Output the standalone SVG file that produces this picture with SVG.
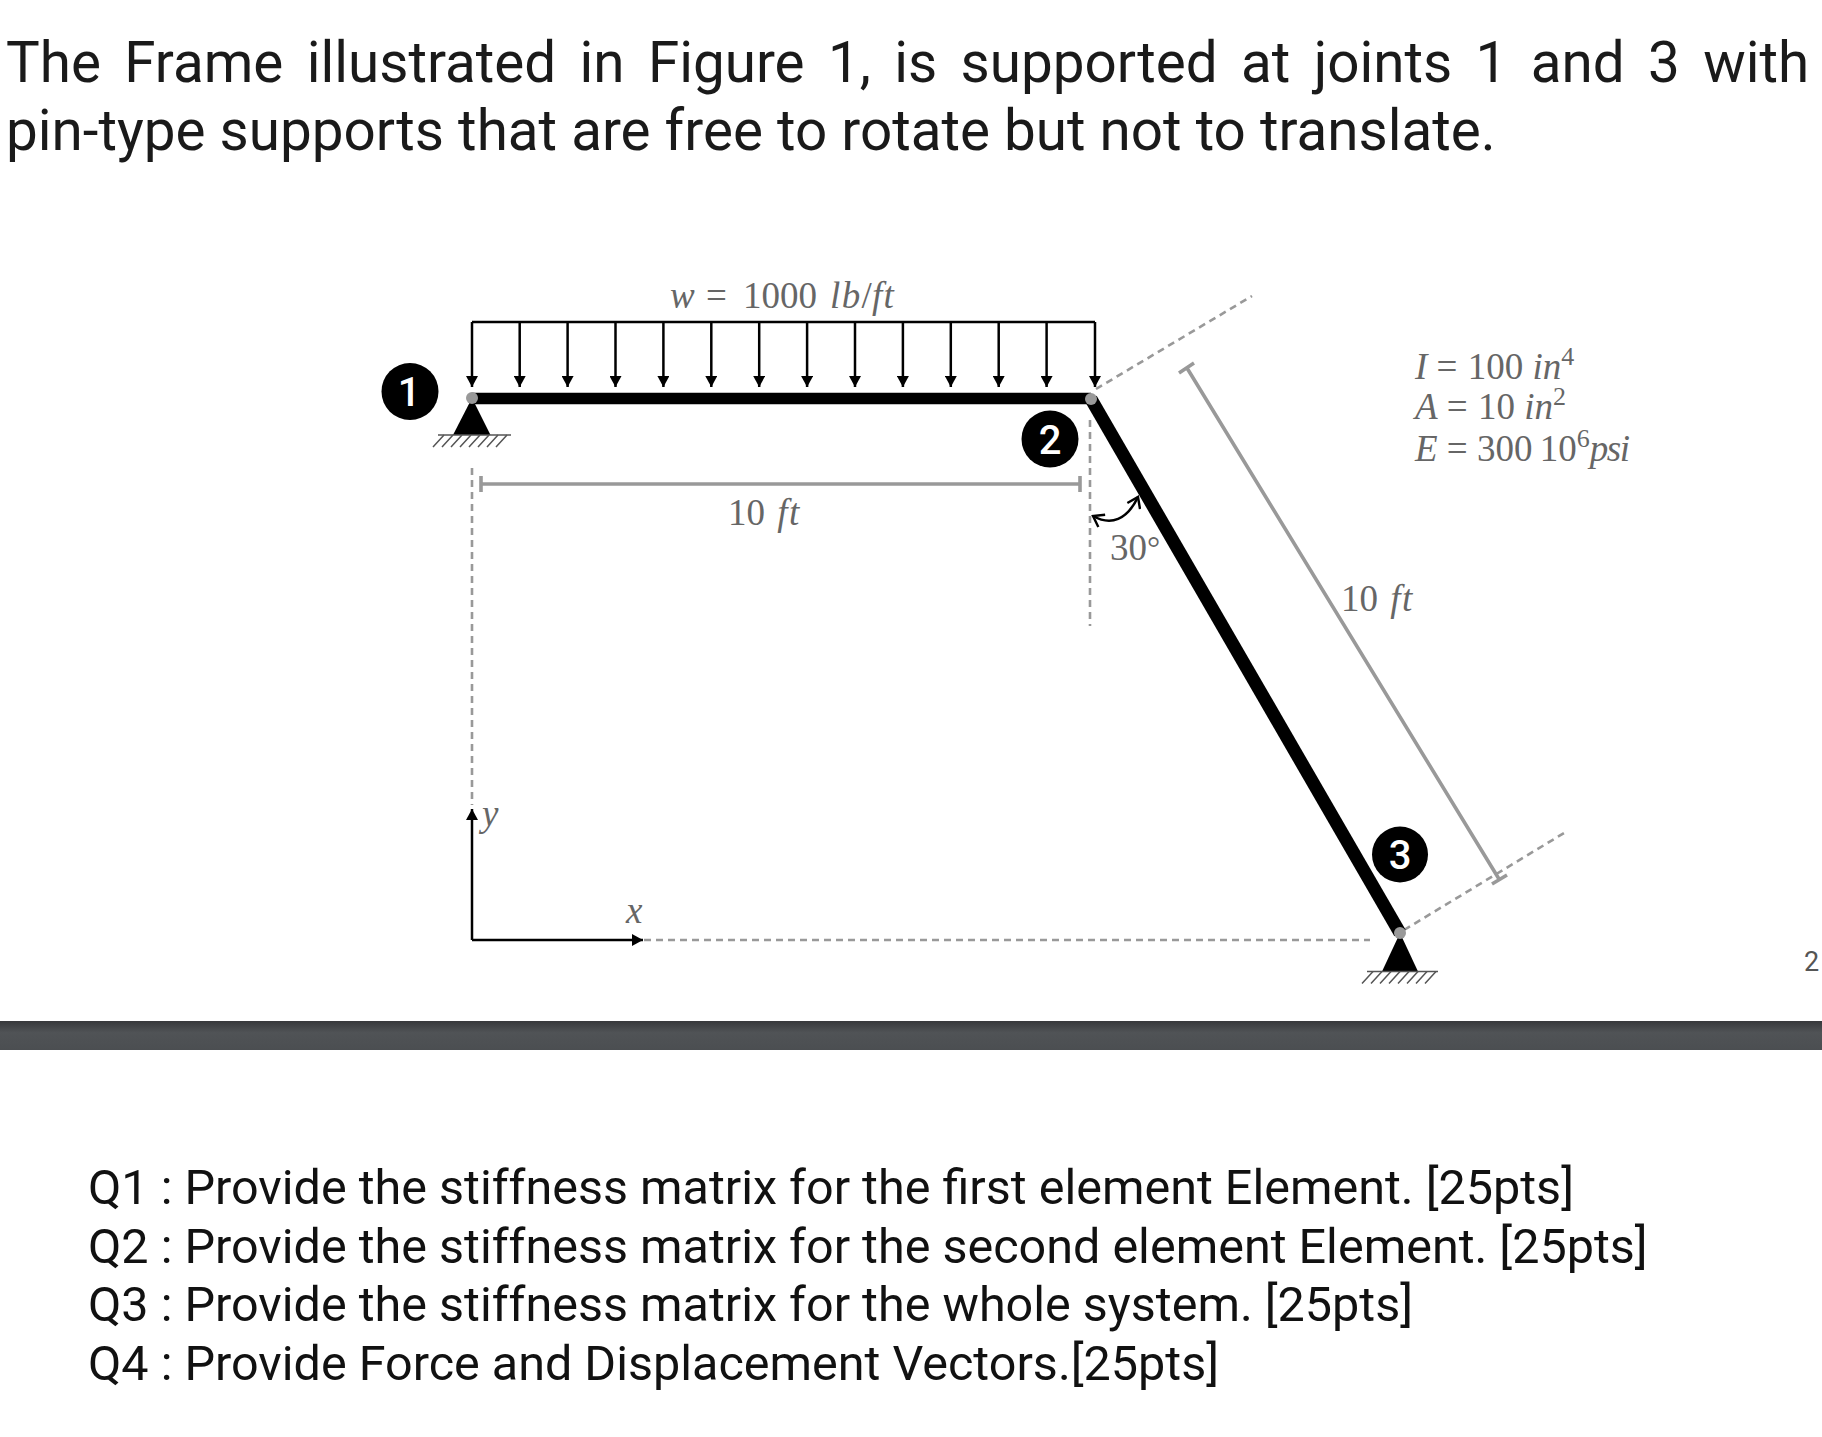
<svg xmlns="http://www.w3.org/2000/svg" width="1822" height="1437" viewBox="0 0 1822 1437">
<style>
.t{font-family:Roboto,"Noto Sans",sans-serif;fill:#1a1a1a;font-size:56.6px}
.q{font-family:Roboto,"Noto Sans",sans-serif;fill:#111;font-size:48.5px}
.m{font-family:"Liberation Serif",serif;fill:#666;font-size:37px}
.i{font-style:italic;letter-spacing:1.4px}
.r{font-style:italic}
.s{font-size:26px}
.n{font-family:Roboto,"Liberation Sans",sans-serif;fill:#fff;font-size:40px;font-weight:500;text-anchor:middle}
.dash{stroke:#999;stroke-width:2.6;stroke-dasharray:7 5;fill:none}
.dim{stroke:#999;stroke-width:3.6;fill:none}
.load{stroke:#000;stroke-width:2.5;fill:none}
.hatch{stroke:#555;stroke-width:1.5;fill:none}
.bn{fill:#000}
.pin{fill:#999}
</style>
<defs>
<linearGradient id="bar" x1="0" y1="0" x2="0" y2="1"><stop offset="0" stop-color="#37383b"/><stop offset=".4" stop-color="#505356"/><stop offset="1" stop-color="#4b4e51"/></linearGradient>
<marker id="ah" markerWidth="12" markerHeight="12" refX="11" refY="6" orient="auto" markerUnits="userSpaceOnUse"><path d="M0 0L11 6L0 12Z" fill="#000"/></marker>
<marker id="oh" markerWidth="14" markerHeight="16" refX="12" refY="8" orient="auto-start-reverse" markerUnits="userSpaceOnUse"><path d="M2 1L12 8L2 15" fill="none" stroke="#000" stroke-width="2.4"/></marker>
<g id="hs"><path class="hatch" d="M0 12L11 0M9 12L20 0M18 12L29 0M27 12L38 0M36 12L47 0M45 12L56 0M54 12L65 0M63 12L74 0"/></g>
</defs>
<rect width="1822" height="1437" fill="#fff"/>
<text class="t" x="6" y="82" word-spacing="9.3">The Frame illustrated in Figure 1, is supported at joints 1 and 3 with</text>
<text class="t" x="6" y="150">pin-type supports that are free to rotate but not to translate.</text>

<g id="connectors">
<path class="dash" d="M472 468V805M1090 420V626M644 940H1370M1096 389L1252 296M1404 930L1564 833"/>
<path class="dim" d="M481 484H1080M481 476V492M1080 476V492M1187 368L1499 879M1179 373L1194 363M1492 884L1507 875"/>
<path class="load" d="M472 322H1095"/>
<path class="load" marker-end="url(#ah)" d="M472 322V387"/>
<path class="load" marker-end="url(#ah)" d="M519.7 322V387"/>
<path class="load" marker-end="url(#ah)" d="M567.6 322V387"/>
<path class="load" marker-end="url(#ah)" d="M615.5 322V387"/>
<path class="load" marker-end="url(#ah)" d="M663.4 322V387"/>
<path class="load" marker-end="url(#ah)" d="M711.3 322V387"/>
<path class="load" marker-end="url(#ah)" d="M759.2 322V387"/>
<path class="load" marker-end="url(#ah)" d="M807.1 322V387"/>
<path class="load" marker-end="url(#ah)" d="M855 322V387"/>
<path class="load" marker-end="url(#ah)" d="M902.9 322V387"/>
<path class="load" marker-end="url(#ah)" d="M950.8 322V387"/>
<path class="load" marker-end="url(#ah)" d="M998.7 322V387"/>
<path class="load" marker-end="url(#ah)" d="M1046.6 322V387"/>
<path class="load" marker-end="url(#ah)" d="M1095 322V387"/>
<path class="load" marker-end="url(#ah)" d="M472 940V809"/>
<path class="load" marker-end="url(#ah)" d="M472 940H643"/>
<path class="load" marker-start="url(#oh)" marker-end="url(#oh)" d="M1093 516C1111 526 1127 520 1138 497"/>
</g>

<g id="members">
<path d="M472 398.5H1091" stroke="#000" stroke-width="11.5" fill="none"/>
<path d="M1091 399L1400 933" stroke="#000" stroke-width="13" fill="none"/>
</g>

<g id="support-1">
<path class="bn" d="M472 398L490.5 435H453Z"/>
<path class="hatch" d="M438 435H511"/>
<use href="#hs" x="433" y="435"/>
<circle class="pin" cx="472" cy="398" r="6"/>
</g>
<g id="support-2"><circle class="pin" cx="1091" cy="399" r="6"/></g>
<g id="support-3">
<path class="bn" d="M1400 933L1418 971.5H1382Z"/>
<path class="hatch" d="M1367 971.5H1438"/>
<use href="#hs" x="1362" y="971.5"/>
<circle class="pin" cx="1400" cy="933" r="6"/>
</g>

<g id="node-1"><circle class="bn" cx="410" cy="391.5" r="28.5"/><text class="n" x="409" y="406">1</text></g>
<g id="node-2"><circle class="bn" cx="1050" cy="439" r="28.5"/><text class="n" x="1050" y="453.5">2</text></g>
<g id="node-3"><circle class="bn" cx="1400" cy="854.5" r="28"/><text class="n" x="1400" y="869">3</text></g>

<g id="labels">
<text class="m" x="670" y="308"><tspan class="i">w</tspan><tspan x="706">=</tspan><tspan x="743">1000</tspan><tspan class="i" x="830">lb</tspan>/<tspan class="i">ft</tspan></text>
<text class="m" x="728" y="525">10 <tspan class="i" dx="3">ft</tspan></text>
<text class="m" x="1110" y="560">30<tspan font-size="33" dy="-1">°</tspan></text>
<text class="m" x="1341" y="611">10 <tspan class="i" dx="3">ft</tspan></text>
<text class="m" x="1415" y="379"><tspan class="r">I</tspan> = <tspan dx="1">100</tspan> <tspan class="r">in</tspan><tspan class="s" dy="-14">4</tspan></text>
<text class="m" x="1415" y="419"><tspan class="r">A</tspan> = <tspan dx="1">10</tspan> <tspan class="r">in</tspan><tspan class="s" dy="-14">2</tspan></text>
<text class="m" x="1415" y="461"><tspan class="r">E</tspan> = 300 <tspan dx="-2">10</tspan><tspan class="s" dy="-14">6</tspan><tspan class="r" dy="14" style="letter-spacing:-1.5px">psi</tspan></text>
<text class="m i" x="626" y="923">x</text>
<text class="m i" x="482" y="826">y</text>
</g>

<text x="1804" y="971" font-family="Roboto,sans-serif" font-size="27" fill="#555">2</text>
<rect x="0" y="1021" width="1822" height="29" fill="url(#bar)"/>

<text class="q" x="88" y="1204">Q1 : Provide the stiffness matrix for the first element Element. [25pts]</text>
<text class="q" x="88" y="1263">Q2 : Provide the stiffness matrix for the second element Element. [25pts]</text>
<text class="q" x="88" y="1321">Q3 : Provide the stiffness matrix for the whole system. [25pts]</text>
<text class="q" x="88" y="1380">Q4 : Provide Force and Displacement Vectors.[25pts]</text>
</svg>
